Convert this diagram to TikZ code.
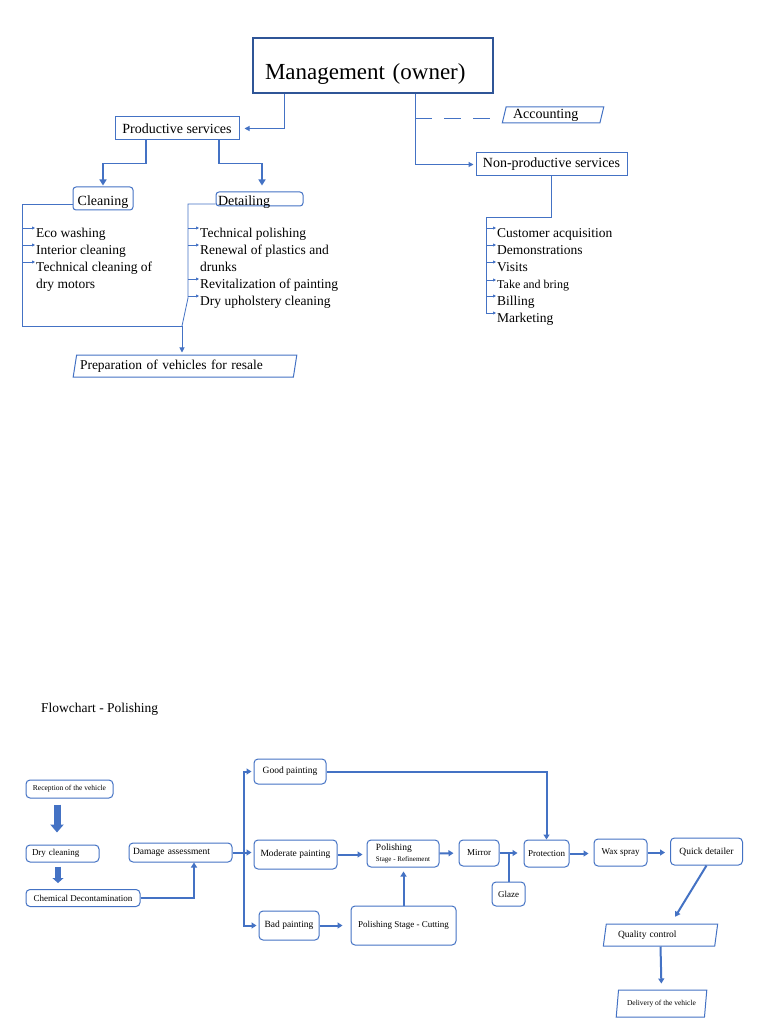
\documentclass[tikz,border=0pt]{standalone}
\usepackage{fontspec}
\setmainfont{Liberation Serif}
\usetikzlibrary{arrows.meta, shapes.geometric}
\definecolor{LineBlue}{RGB}{68,114,196}
\definecolor{FrameBlue}{RGB}{47,85,151}
\tikzset{
    huge text/.style={font=\fontsize{23}{27}\selectfont},
    head text/.style={font=\fontsize{14}{17}\selectfont},
    body text/.style={font=\fontsize{13.5}{17}\selectfont},
    flow text/.style={font=\fontsize{9.5}{11}\selectfont},
    small text/.style={font=\fontsize{9}{11}\selectfont},
    tiny text/.style={font=\fontsize{7.5}{9}\selectfont},
    box/.style={draw=LineBlue, line width=1pt, inner sep=0pt},
    round box/.style={box, rounded corners=4pt},
    slant box/.style={
        box, trapezium, trapezium left angle=75, trapezium right angle=105,
        trapezium stretches=true
    },
    item/.style={body text, anchor=north west, inner sep=0pt, align=left},
    spine/.style={draw=LineBlue, line width=0.8pt},
    item arrow/.style={spine, -{Triangle[length=3pt, width=3pt]}, shorten >=1pt},
    link/.style={draw=LineBlue, line width=1pt, -{Triangle[length=5pt, width=5pt]}},
    thick link/.style={draw=LineBlue, line width=1.8pt, -{Triangle[length=6pt, width=7pt]}},
    flow/.style={draw=LineBlue, line width=2pt, -{Triangle[length=5pt, width=6pt]}},
    block arrow/.style={draw=LineBlue, line width=7pt, -{Triangle[length=8pt, width=13pt]}}
}

\begin{document}
\begin{tikzpicture}[x=1pt, y=-1pt]

\fill[white] (0,0) rectangle (768,1024);
\useasboundingbox (0,0) rectangle (768,1024);

% Organigrama: cajas principales
\node[box, draw=FrameBlue, line width=2.2pt, minimum width=240, text width=216,
      align=left, text height=42, text depth=13, huge text] (mgmt) at (373,65.5) {Management (owner)};
\node[box, minimum width=124, minimum height=23, head text] (prod) at (177,128.5) {Productive services};
\node[round box, rounded corners=3pt, minimum width=60, text height=19, text depth=4, head text] (clean) at (103,198.5) {Cleaning};
\node[round box, rounded corners=3pt, minimum width=87, text width=83, align=left,
      text height=14, text depth=0, head text] (detail) at (259.5,199) {Detailing};
\node[slant box, minimum width=224, minimum height=22, text width=210, align=left, body text] (prep) at (185,366) {Preparation of vehicles for resale};
\node[slant box, minimum width=102, minimum height=16, text width=80, align=left, head text] (acct) at (553,115) {Accounting};
\node[box, minimum width=151, minimum height=23, head text] (nonprod) at (551.5,164.5) {Non-productive services};

% Listas de tareas
\node[item] (eco) at (36,228) {Eco washing};
\node[item] (interior) at (36,245) {Interior cleaning};
\node[item] (techclean) at (36,262) {Technical cleaning of\\dry motors};
\node[item] (techpol) at (200,228) {Technical polishing};
\node[item] (renewal) at (200,245) {Renewal of plastics and\\drunks};
\node[item] (revital) at (200,279) {Revitalization of painting};
\node[item] (upholstery) at (200,296) {Dry upholstery cleaning};
\node[item] (acquisition) at (497,228) {Customer acquisition};
\node[item] (demos) at (497,245) {Demonstrations};
\node[item] (visits) at (497,262) {Visits};
\node[item, font=\fontsize{12}{17}\selectfont] (takebring) at (497,280) {Take and bring};
\node[item] (billing) at (497,296) {Billing};
\node[item] (marketing) at (497,313) {Marketing};

% Ejes de las listas
\coordinate (cleanTop) at (22,204);
\coordinate (cleanEnd) at (22,326);
\coordinate (detailTop) at (188,204);
\coordinate (detailBend) at (188,298);
\coordinate (join) at (182,326);
\coordinate (npTop) at (486,217);
\coordinate (npEnd) at (486,313);

\draw[spine] (clean.west |- cleanTop) -- (cleanTop) -- (cleanEnd) -- (join);
\draw[spine] (detail.west |- detailTop) -- (detailTop) -- (detailBend) -- (join);
\draw[spine] (nonprod.south) |- (npTop) -- (npEnd);
\draw[link, shorten >=2pt] (join) -- (join |- prep.north);

\foreach \it in {eco, interior, techclean}
    \draw[item arrow] (\it.north west -| cleanTop) -- (\it.north west);
\foreach \it in {techpol, renewal, revital, upholstery}
    \draw[item arrow] (\it.north west -| detailTop) -- (\it.north west);
\foreach \it in {acquisition, demos, visits, takebring, billing, marketing}
    \draw[item arrow] (\it.north west -| npTop) -- (\it.north west);

% Conexiones de la gerencia
\draw[link, shorten >=5pt] ([xshift=-89pt]mgmt.south) |- (prod.east);
\draw[link, shorten >=2pt] ([xshift=42pt]mgmt.south) |- (nonprod.west);
\draw[spine, dash pattern=on 17pt off 12pt] ([xshift=42pt, yshift=-3pt]mgmt.south |- acct.west) -- ([xshift=-9pt, yshift=-3pt]acct.west);
\draw[thick link, shorten >=1pt] ([xshift=-31pt]prod.south) -- ++(0,23) -| (clean.north);
\draw[thick link, shorten >=6pt] ([xshift=42pt]prod.south) -- ++(0,23) -| ([xshift=2.5pt]detail.north);

% Diagrama de flujo del pulido
\node[anchor=west, inner sep=0pt, body text] (title) at (41,709) {Flowchart - Polishing};
\node[round box, minimum width=87, minimum height=18, tiny text] (recep) at (69.5,789) {Reception of the vehicle};
\node[round box, minimum width=73, minimum height=17, text width=61, align=left, small text] (dry) at (62.5,853.5) {Dry cleaning};
\node[round box, minimum width=114, minimum height=17, small text] (chem) at (83,898) {Chemical Decontamination};
\node[round box, minimum width=103, minimum height=19, text width=95, align=left, flow text] (damage) at (180.5,852.5) {Damage assessment};
\node[round box, minimum width=72, minimum height=25, flow text] (good) at (290,771.5) {Good painting};
\node[round box, minimum width=83, minimum height=29, flow text] (moderate) at (295.5,854.5) {Moderate painting};
\node[round box, minimum width=60, minimum height=29, flow text] (bad) at (289,925.5) {Bad painting};
\node[round box, minimum width=105, minimum height=39, small text] (cutting) at (403.5,925.5) {Polishing Stage - Cutting};
\node[round box, minimum width=72, minimum height=27, align=left, flow text] (refine) at (403,853.5)
    {Polishing\\{\fontsize{7}{8}\selectfont Stage - Refinement}};
\node[round box, minimum width=40, minimum height=26, small text] (mirror) at (479,853) {Mirror};
\node[round box, minimum width=33, minimum height=24, small text] (glaze) at (508.5,894) {Glaze};
\node[round box, minimum width=45, minimum height=27, small text] (protect) at (546.5,853.5) {Protection};
\node[round box, minimum width=53, minimum height=27, small text] (wax) at (620.5,852.5) {Wax spray};
\node[round box, minimum width=72, minimum height=27, flow text] (quick) at (706.5,851.5) {Quick detailer};
\node[slant box, minimum width=115, minimum height=22, text width=85, align=left, flow text] (quality) at (660.5,935) {Quality control};
\node[slant box, minimum width=91, minimum height=27, tiny text] (delivery) at (661.5,1003.5) {Delivery of the vehicle};

% Flechas del flujo
\draw[block arrow, shorten <=6pt, shorten >=12pt] ([xshift=-12.5pt]recep.south) -- ([xshift=-12.5pt]recep.south |- dry.north);
\draw[block arrow, line width=6pt, -{Triangle[length=5pt, width=11pt]}, shorten <=4pt, shorten >=6pt]
    ([xshift=-4.5pt]dry.south) -- ([xshift=-4.5pt]dry.south |- chem.north);
\draw[flow] (chem.east) -| ([xshift=13.5pt]damage.south);
\coordinate (fork) at ([xshift=11pt]damage.east);
\draw[flow, shorten >=2pt] (damage.east) -- (fork) |- (good.west);
\draw[flow, shorten >=2pt] (fork) -- (fork -| moderate.west);
\draw[flow, shorten >=2pt] (fork) |- (bad.west);
\draw[flow] (good.east) -| (protect.north);
\draw[flow, shorten >=4pt] (moderate.east) -- (moderate.east -| refine.west);
\draw[flow, shorten >=8pt] (bad.east) -- (cutting.west);
\draw[flow, shorten >=4pt] (cutting.north) -- (cutting.north |- refine.south);
\draw[flow, shorten >=5pt] (refine.east) -- (mirror.west);
\draw[flow, shorten >=6pt] (mirror.east) -- (mirror.east -| protect.west);
\draw[flow, -] (glaze.north) -- (glaze.north |- mirror.east);
\draw[flow, shorten >=5pt] (protect.east) -- (protect.east -| wax.west);
\draw[flow, shorten >=5pt] (wax.east) -- (wax.east -| quick.west);
\draw[flow, shorten >=8pt] (quick.south) -- ([xshift=10.5pt]quality.north);
\draw[flow, shorten >=6pt] (quality.south) -- (delivery.north);

\end{tikzpicture}
\end{document}
